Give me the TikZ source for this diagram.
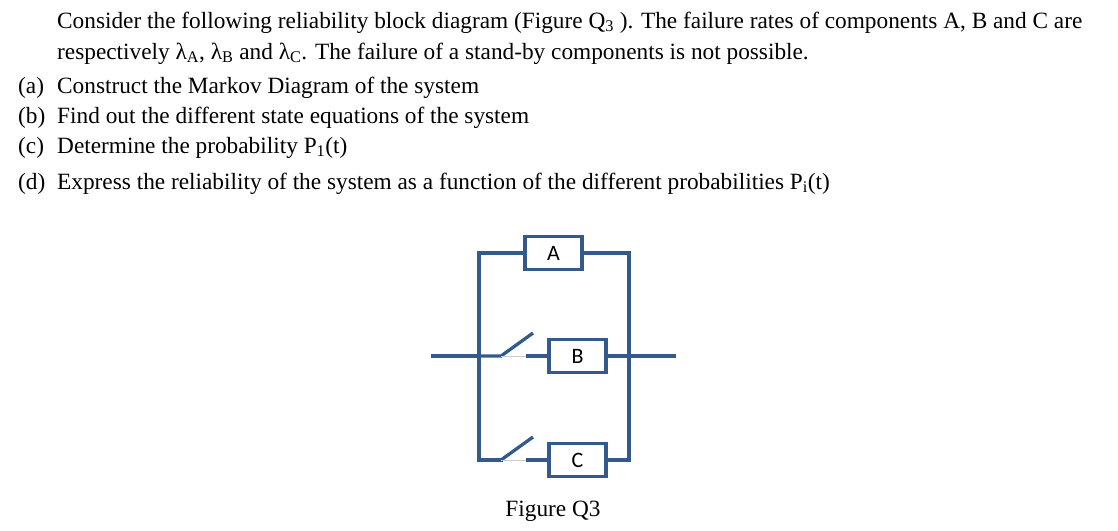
\documentclass[tikz,border=0pt]{standalone}
\usepackage{fontspec}
\setmainfont{Liberation Serif}
\setsansfont{Carlito}
\definecolor{wire}{RGB}{52,90,140}
\begin{document}
\begin{tikzpicture}[x=1pt,y=-1pt,
  txt/.style={anchor=base west,inner sep=0pt,font=\fontsize{23.3}{26}\selectfont},
  wireline/.style={draw=wire,line width=3.3pt},
  blk/.style={draw=wire,line width=3.3pt,fill=white,minimum width=57pt,minimum height=33pt,inner sep=0pt,font=\sffamily\fontsize{22}{24}\selectfont}]
\useasboundingbox (0,0) rectangle (1118,530);
\newcommand{\sbs}[1]{\textsubscript{#1}}
\node[txt] (l1) at (57,28) {Consider the following reliability block diagram (Figure Q\sbs{3} ). The failure rates of components A, B and C are};
\node[txt] (l2) at (57,59) {respectively λ\sbs{A}, λ\sbs{B} and λ\sbs{C}. The failure of a stand-by components is not possible.};
\node[txt] (la0) at (18,93) {(a)};
\node[txt] (la) at (57,93) {Construct the Markov Diagram of the system};
\node[txt] (lb0) at (18,123) {(b)};
\node[txt] (lb) at (57,123) {Find out the different state equations of the system};
\node[txt] (lc0) at (18,153) {(c)};
\node[txt] (lc) at (57,153) {Determine the probability P\sbs{1}(t)};
\node[txt] (ld0) at (18,189) {(d)};
\node[txt] (ld) at (57,189) {Express the reliability of the system as a function of the different probabilities P\sbs{i}(t)};
\node[txt,anchor=base] (fig) at (553,516) {Figure Q3};
% blocks
\node[blk] (A) at (553.5,253) {A};
\node[blk] (B) at (577.5,356) {B};
\node[blk] (C) at (577.5,460) {C};
\coordinate (in) at (431,356);
\coordinate (out) at (676,356);
\coordinate (jl) at (479,356);
\coordinate (jr) at (629,356);
\coordinate (tl) at (479,253);
\coordinate (tr) at (629,253);
\coordinate (bl) at (479,460);
\coordinate (br) at (629,460);
\coordinate (sB) at (501,356);
\coordinate (sBe) at (533,333);
\coordinate (cB) at (526,356);
\coordinate (sC) at (501,460);
\coordinate (sCe) at (533,437);
\coordinate (cC) at (526,460);
\draw[wireline] (in) -- (jl);
\draw[wireline] (jr) -- (out);
\draw[wireline,line cap=rect] (A.west) -- (tl) -- (bl) -- (sC);
\draw[wireline,line cap=rect] (A.east) -- (tr) -- (br) -- (C.east);
\draw[wireline] (jl) -- (sB) -- (sBe);
\draw[wireline] (cB) -- (B.west);
\draw[wireline] (B.east) -- (jr);
\draw[wireline] (sC) -- (sCe);
\draw[wireline] (cC) -- (C.west);
\draw[gray!40,line width=0.8pt] (sB) -- (cB);
\draw[gray!40,line width=0.8pt] (sC) -- (cC);
\end{tikzpicture}
\end{document}
